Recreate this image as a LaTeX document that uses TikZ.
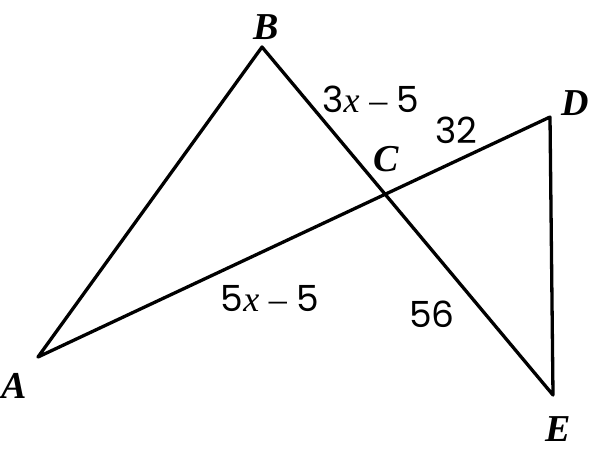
\documentclass[tikz,border=0pt]{standalone}
\usepackage{fontspec}
\setmainfont{Liberation Serif}
\newfontfamily\numfont{Poppins}
\usetikzlibrary{positioning}

\begin{document}
\begin{tikzpicture}[
                x=1pt, y=-1pt,
                edge/.style={line width=3.3pt, line join=round},
                vertexlabel/.style={font=\fontsize{38}{38}\selectfont\bfseries\itshape, inner sep=0pt},
                sidelabel/.style={font=\fontsize{36}{36}\numfont, inner sep=0pt},
            ]
            \useasboundingbox (0,0) rectangle (599,451);
            % Vertices
            \coordinate (A) at (38,357);
            \coordinate (B) at (262,47);
            \coordinate (D) at (550,117);
            \coordinate (E) at (553,395);
            \coordinate (C) at (intersection of A--D and B--E);

            % Vertex labels
            \node[vertexlabel]      (label_A)    at (14,386)         {A};
            \node[vertexlabel]      (label_B)    at (266,27)         {B};
            \node[vertexlabel]      (label_C)    at (386,159)        {C};
            \node[vertexlabel]      (label_D)    at (575,103)        {D};
            \node[vertexlabel]      (label_E)    at (558,429)        {E};

            % Side labels
            \node[sidelabel]        (len_BC)     at (371,99)         {3{\fontspec{Liberation Serif}\itshape x} {\fontspec{Liberation Serif}\char"2013} 5};
            \node[sidelabel]        (len_CD)     at (456,130)        {32};
            \node[sidelabel]        (len_AC)     at (270,298)        {5{\fontspec{Liberation Serif}\itshape x} {\fontspec{Liberation Serif}\char"2013} 5};
            \node[sidelabel]        (len_CE)     at (432,314)        {56};

            %Lines
            \draw[edge] (A) -- (B) -- (E) -- (D) -- cycle;
        \end{tikzpicture}
\end{document}
